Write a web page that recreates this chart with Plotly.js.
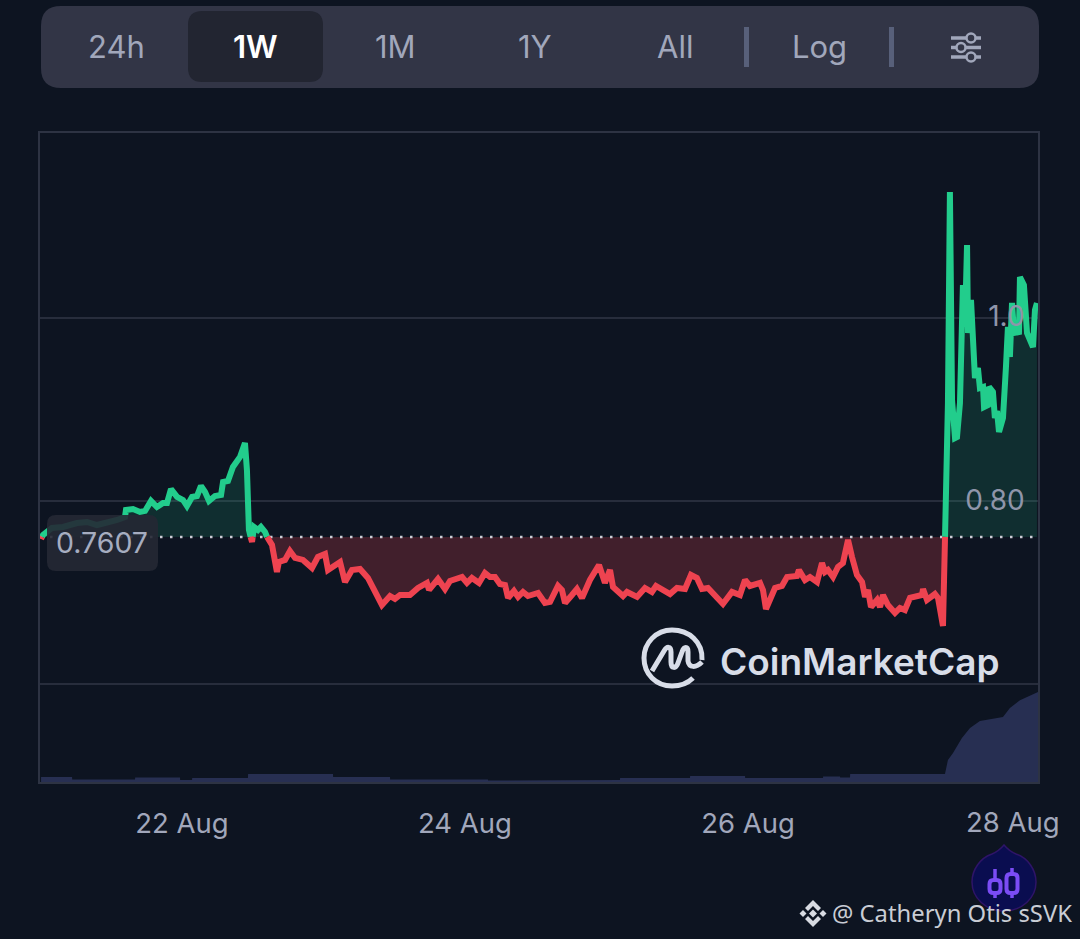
<!DOCTYPE html>
<html>
<head>
<meta charset="utf-8">
<script src="https://cdn.plot.ly/plotly-3.0.1.min.js"></script>
<style>html,body{margin:0;padding:0;background:#0d1421;overflow:hidden}</style>
</head>
<body>
<div id="chart" style="width:1080px;height:939px"></div>
<script>
// ---------- data (x = day of August) ----------
const basePrice = 0.7607;
const priceDays = [21.004,21.018,21.081,21.159,21.258,21.329,21.399,21.470,21.541,21.597,21.604,21.654,21.703,21.739,21.781,21.823,21.866,21.894,21.922,21.965,22.007,22.035,22.071,22.106,22.134,22.163,22.191,22.233,22.276,22.290,22.325,22.360,22.410,22.445,22.459,22.473,22.481,22.495,22.509,22.537,22.558,22.587,22.601,22.636,22.671,22.685,22.728,22.763,22.799,22.855,22.919,22.961,23.011,23.032,23.117,23.152,23.201,23.258,23.314,23.350,23.413,23.470,23.505,23.541,23.611,23.668,23.731,23.746,23.809,23.859,23.894,23.979,24.014,24.049,24.099,24.141,24.177,24.212,24.247,24.283,24.304,24.346,24.375,24.410,24.445,24.516,24.565,24.601,24.657,24.685,24.707,24.756,24.791,24.827,24.883,24.947,24.989,25.025,25.046,25.117,25.145,25.216,25.272,25.321,25.350,25.449,25.498,25.555,25.597,25.639,25.675,25.717,25.767,25.823,25.887,25.943,25.979,26.014,26.085,26.106,26.127,26.191,26.240,26.276,26.346,26.360,26.403,26.438,26.488,26.523,26.544,26.565,26.601,26.636,26.671,26.707,26.735,26.770,26.806,26.827,26.848,26.869,26.912,26.933,26.954,26.989,27.039,27.074,27.109,27.145,27.230,27.237,27.265,27.321,27.343,27.378,27.392,27.413,27.427,27.442,27.463,27.477,27.498,27.512,27.519,27.533,27.548,27.555,27.576,27.604,27.625,27.639,27.661,27.668,27.696,27.703,27.731,27.745,27.760,27.774,27.802,27.823,27.837,27.851,27.866,27.880,27.915,27.922,27.950,27.972,28.014,28.028,28.042];
const priceValues = [0.7584,0.7628,0.7705,0.7716,0.7759,0.7770,0.7737,0.7759,0.7792,0.7825,0.7901,0.7912,0.7880,0.7891,0.8000,0.7934,0.7978,0.7978,0.8131,0.8044,0.8011,0.7945,0.8044,0.8054,0.8164,0.8098,0.8000,0.8054,0.8065,0.8207,0.8218,0.8371,0.8481,0.8634,0.8339,0.7683,0.7628,0.7552,0.7716,0.7683,0.7716,0.7661,0.7607,0.7519,0.7224,0.7333,0.7355,0.7453,0.7377,0.7355,0.7267,0.7388,0.7421,0.7246,0.7333,0.7114,0.7246,0.7257,0.7158,0.7049,0.6863,0.6961,0.6929,0.6972,0.6972,0.7049,0.7104,0.7027,0.7147,0.7038,0.7125,0.7169,0.7104,0.7158,0.7104,0.7213,0.7169,0.7169,0.7093,0.7082,0.6940,0.7016,0.6951,0.7005,0.6961,0.6994,0.6885,0.6896,0.7071,0.7027,0.6885,0.6972,0.7038,0.6940,0.7136,0.7300,0.7104,0.7246,0.7060,0.6961,0.7005,0.6951,0.7049,0.7005,0.7071,0.6983,0.7049,0.7038,0.7191,0.7158,0.7038,0.7049,0.6972,0.6874,0.7005,0.6972,0.7136,0.7071,0.7104,0.7027,0.6819,0.7049,0.7071,0.7169,0.7180,0.7246,0.7136,0.7169,0.7114,0.7322,0.7224,0.7246,0.7169,0.7278,0.7322,0.7574,0.7388,0.7191,0.7114,0.6951,0.7027,0.6841,0.6918,0.6841,0.6972,0.6863,0.6776,0.6830,0.6808,0.6940,0.6972,0.7038,0.6918,0.6983,0.6940,0.6634,0.7574,0.9071,1.1377,0.9104,0.8688,0.8699,0.9071,0.9869,1.0361,0.9902,1.0798,0.9836,1.0197,0.9344,0.9454,0.9235,0.9246,0.9027,0.9049,0.9246,0.9191,0.8907,0.8984,0.8754,0.8907,0.9464,0.9902,0.9574,1.0164,0.9836,0.9847,1.0448,1.0361,0.9836,0.9683,1.0087,1.0164];
const volumeDays = [21.004,21.223,21.224,21.668,21.669,21.986,21.987,22.071,22.072,22.466,22.467,23.067,23.068,23.470,23.471,24.162,24.163,24.389,24.390,25.095,25.096,25.590,25.591,25.979,25.980,26.530,26.531,26.650,26.651,26.721,26.722,27.392,27.413,27.449,27.512,27.569,27.639,27.731,27.802,27.851,27.922,28.05];
const volumeValues = [0.77,0.77,0.39,0.39,0.69,0.69,0.31,0.31,0.62,0.62,1.23,1.23,0.77,0.77,0.39,0.39,0.23,0.23,0.31,0.31,0.62,0.62,0.92,0.92,0.62,0.62,0.85,0.85,0.69,0.69,1.23,1.23,3.39,4.47,6.78,8.32,9.40,9.70,10.0,11.4,12.6,13.87];
const xTickDays = [22,24,26];
const xTickLabels = ['22 Aug','24 Aug','26 Aug'];
const lastTickDay = 28;
const lastTickLabel = '28 Aug';
const priceGrid = [0.6,0.8,1.0];
const priceLabelValues = [0.999,0.798];
const priceLabelTexts = ['1.0','0.80'];
const rangeTabs = ['24h','1W','1M','1Y','All','Log'];
const baseLabel = '0.7607';
const brand = 'CoinMarketCap';
const credit = '@ Catheryn Otis sSVK';

// ---------- colours ----------
const BG='#0d1421', GREEN='#22cd8c', RED='#ee4350', MUTED='#a1a7bb', GRID='#272d3c', VOL='#272f52';

// ---------- split the series at the base price ----------
const sx=[], sy=[];
priceDays.forEach((d,i)=>{
  sx.push(d); sy.push(priceValues[i]);
  if(i<priceDays.length-1){
    const a=priceValues[i]-basePrice, b=priceValues[i+1]-basePrice;
    if(a*b<0){ sx.push(d+(priceDays[i+1]-d)*a/(a-b)); sy.push(basePrice); }
  }
});
const baseY = sx.map(()=>basePrice);
const xRange=[20.9965,28.0495];

const traces=[
 {x:volumeDays,y:volumeValues,yaxis:'y2',mode:'lines',line:{width:0,color:VOL},fill:'tozeroy',fillcolor:VOL,hoverinfo:'skip'},
 {x:sx,y:baseY,mode:'lines',line:{width:0},hoverinfo:'skip'},
 {x:sx,y:sy.map(v=>Math.max(v,basePrice)),mode:'lines',line:{width:0},fill:'tonexty',fillcolor:'rgba(34,205,140,0.14)',hoverinfo:'skip'},
 {x:sx,y:baseY,mode:'lines',line:{width:0},hoverinfo:'skip'},
 {x:sx,y:sy.map(v=>Math.min(v,basePrice)),mode:'lines',line:{width:0},fill:'tonexty',fillcolor:'rgba(238,67,80,0.23)',hoverinfo:'skip'},
 {x:xRange,y:[basePrice,basePrice],mode:'lines',line:{color:'#c9ccd4',width:2.5,dash:'2.5px,7.5px'},hoverinfo:'skip'},
 {x:sx,y:sy.map(v=>v>=basePrice?v:null),mode:'lines',line:{color:GREEN,width:6},hoverinfo:'skip'},
 {x:sx,y:sy.map(v=>v<=basePrice?v:null),mode:'lines',line:{color:RED,width:6},hoverinfo:'skip'},
 {x:priceLabelValues.map(()=>27.955),y:priceLabelValues,mode:'text',text:priceLabelTexts,textposition:'middle left',textfont:{family:'Inter',size:28,color:'#8f95aa'},hoverinfo:'skip'}
];

// ---------- decoration helpers (pixel -> paper) ----------
const W=1080,H=939;
const fx=x=>x/W, fy=y=>1-y/H;
const P=s=>s.replace(/(-?[\d.]+) (-?[\d.]+)/g,(m,a,b)=>fx(+a)+','+fy(+b));
const rr=(x0,y0,x1,y1,r)=>P(`M ${x0+r} ${y0} L ${x1-r} ${y0} Q ${x1} ${y0} ${x1} ${y0+r} L ${x1} ${y1-r} Q ${x1} ${y1} ${x1-r} ${y1} L ${x0+r} ${y1} Q ${x0} ${y1} ${x0} ${y1-r} L ${x0} ${y0+r} Q ${x0} ${y0} ${x0+r} ${y0} Z`);
const circ=(cx,cy,r)=>{const k=r*0.5523;return P(`M ${cx-r} ${cy} C ${cx-r} ${cy-k} ${cx-k} ${cy-r} ${cx} ${cy-r} C ${cx+k} ${cy-r} ${cx+r} ${cy-k} ${cx+r} ${cy} C ${cx+r} ${cy+k} ${cx+k} ${cy+r} ${cx} ${cy+r} C ${cx-k} ${cy+r} ${cx-r} ${cy+k} ${cx-r} ${cy} Z`);};
const shape=(path,fill,line,w)=>({type:'path',xref:'paper',yref:'paper',path,fillcolor:fill||'rgba(0,0,0,0)',line:{color:line||'rgba(0,0,0,0)',width:w||0},layer:'above'});
const diamond=(cx,cy,r)=>P(`M ${cx} ${cy-r} L ${cx+r} ${cy} L ${cx} ${cy+r} L ${cx-r} ${cy} Z`);

const shapes=[
 shape(rr(41,6,1039,88,20),'#323546'),
 shape(rr(188,11,323,82,14),'#222531'),
 shape(P('M 746.5 27 L 746.5 67'),null,'#58607a',5),
 shape(P('M 891.5 27 L 891.5 67'),null,'#58607a',5),
 // settings icon
 shape(P('M 951 38 L 981 38'),null,MUTED,3.5),
 shape(P('M 951 47.5 L 981 47.5'),null,MUTED,3.5),
 shape(P('M 951 57 L 981 57'),null,MUTED,3.5),
 shape(circ(971,38,4.5),'#323546',MUTED,2.5),
 shape(circ(961,47.5,4.5),'#323546',MUTED,2.5),
 shape(circ(971,57,4.5),'#323546',MUTED,2.5),
 // base price label box
 shape(rr(47,515,158,571,9),'rgba(37,40,52,0.9)'),
 // logo
 shape(P('M 702 660 C 703 642 689 630 672 630 C 656 630 644 643 644 658 C 644 674 656 686 672 686 C 680 686 688 683 693 678'),null,'#d8dde8',5),
 shape(P('M 652 671 L 664 651 C 667 646 671 646 671 652 L 671 662 C 671 669 676 669 678 663 L 682 652 C 684 646 688 646 688 652 L 688 661 C 689 668 696 668 702 662'),null,'#d8dde8',5),
 // watermark badge
 shape(P('M 1004 845 Q 1009 851 1016 854 C 1028 858 1036 870 1036 882 C 1036 898 1022 911 1004 911 C 986 911 972 898 972 882 C 972 870 980 858 992 854 Q 999 851 1004 845 Z'),'#0a0d50','#2e1468',1.5),
 shape(P('M 995 869 L 995 880 M 995 893 L 995 898 M 1012 868 L 1012 874 M 1012 893 L 1012 898'),null,'#7b4cf5',3.5),
 shape(rr(989.5,880,1000.5,893,4),null,'#7b4cf5',4),
 shape(rr(1006.5,874,1017.5,893,4),null,'#7b4cf5',4),
 // binance diamond
 shape(diamond(813,913.5,4),'#d8dbe2'),
 shape(diamond(803,913.5,3.5),'#d8dbe2'),
 shape(diamond(823,913.5,3.5),'#d8dbe2'),
 shape(P('M 813 900 L 821 908 L 818 911 L 813 906 L 808 911 L 805 908 Z'),'#d8dbe2'),
 shape(P('M 813 927 L 821 919 L 818 916 L 813 921 L 808 916 L 805 919 Z'),'#d8dbe2')
];

const note=(text,x,y,size,color,extra)=>Object.assign({xref:'paper',yref:'paper',x:fx(x),y:fy(y),text,showarrow:false,xanchor:'center',yanchor:'middle',font:{family:'Inter',size,color}},extra||{});
const tabX=[116,255,395,535,675,819];
const annotations=rangeTabs.map((t,i)=>note(t,tabX[i],47,31,t==='1W'?'#ffffff':MUTED,t==='1W'?{font:{family:'Inter',size:31,color:'#ffffff',weight:600}}:{}));
annotations.push(note(baseLabel,102,542,28.5,'#a6adc0'));
annotations.push(note(brand,860,661,37,'#d8dde8',{font:{family:'Inter',size:37,color:'#d8dde8',weight:600}}));
annotations.push(note(credit,952,913,23.5,'#c9cdd5',{font:{family:'Noto Sans',size:23.8,color:'#c9cdd5'}}));
annotations.push({xref:'x',x:lastTickDay,yref:'paper',y:fy(822),xshift:-18,text:lastTickLabel,showarrow:false,xanchor:'center',yanchor:'middle',font:{family:'Inter',size:27.5,color:MUTED}});

const layout={
 width:W,height:H,margin:{l:0,r:0,t:0,b:0},
 paper_bgcolor:BG,plot_bgcolor:BG,showlegend:false,
 xaxis:{domain:[40/W,1038/W],range:xRange,tickvals:xTickDays,ticktext:xTickLabels,tickfont:{family:'Inter',size:27.5,color:MUTED},
   ticks:'outside',ticklen:16,tickcolor:'rgba(0,0,0,0)',showgrid:false,zeroline:false,showline:true,mirror:true,linecolor:'#2d3343',linewidth:2,fixedrange:true},
 yaxis:{domain:[1-782/H,1-133/H],range:[0.4928,1.2022],tickvals:priceGrid,showticklabels:false,ticks:'',showgrid:true,gridcolor:GRID,gridwidth:2,zeroline:false,showline:true,mirror:true,linecolor:'#2d3343',linewidth:2,fixedrange:true},
 yaxis2:{domain:[1-782/H,1-133/H],overlaying:'y',range:[0,100],showgrid:false,showticklabels:false,ticks:'',zeroline:false,fixedrange:true},
 shapes,annotations,hovermode:false
};
Plotly.newPlot('chart',traces,layout,{displayModeBar:false,staticPlot:true});
</script>
</body>
</html>
